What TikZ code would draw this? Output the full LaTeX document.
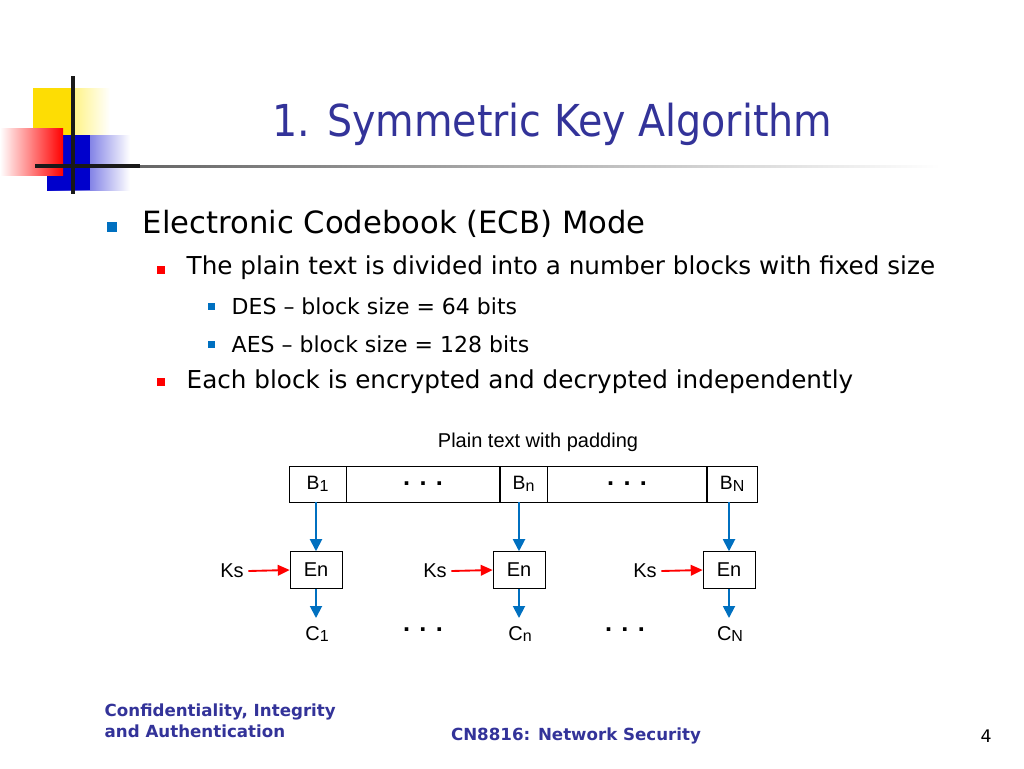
\documentclass[tikz,border=0pt]{standalone}
\usepackage{fontspec}
\setmainfont{DejaVu Sans}
\newfontfamily\condfont{DejaVu Sans Condensed}
\newfontfamily\arialfont{Liberation Sans}
\usetikzlibrary{positioning,arrows.meta}
\definecolor{titleblue}{RGB}{51,51,153}
\definecolor{arrowblue}{RGB}{0,112,192}
\newcommand{\lowtxt}[1]{\raisebox{-0.15ex}{\fontsize{12}{14}\selectfont #1}}
\tikzset{
  blk/.style={draw,minimum height=36*0.75pt,inner sep=0pt,font=\arialfont\fontsize{14.5}{16}\selectfont},
  enbox/.style={draw,minimum width=52*0.75pt,minimum height=37*0.75pt,inner sep=0pt,font=\arialfont\fontsize{15}{17}\selectfont},
  lbl/.style={font=\arialfont\fontsize{15}{17}\selectfont},
  dots/.style={font=\arialfont\bfseries\fontsize{19}{20}\selectfont},
  flow/.style={arrowblue,line width=1.4pt,-{Triangle[length=9pt,width=9pt]}},
  keyarr/.style={red,line width=1.4pt,-{Triangle[length=9pt,width=8pt]}},
  foot/.style={font=\bfseries\fontsize{12.5}{16}\selectfont,text=titleblue,anchor=west,align=left}
}
\begin{document}
\begin{tikzpicture}[x=0.75pt,y=-0.75pt]
    \useasboundingbox (0,0) rectangle (1024,768);
    % logo
    \shade[left color=yellow!80!orange,right color=white] (33,88) rectangle (110,135);
    \fill[yellow!80!orange] (33,88) rectangle (75,135);
    \shade[left color=blue!80!black,right color=white] (47,135) rectangle (130,190);
    \fill[blue!80!black] (47,135) rectangle (90,190);
    \shade[left color=white,right color=red] (0,128) rectangle (63,175);
    \draw[line width=2.4pt,black!90] (73,76) -- (73,194);
    \draw[line width=2.4pt,black!90] (35,166) -- (140,166);
    \shade[left color=black!60,right color=white] (140,165) rectangle (940,167.5);
    \node[anchor=west,text=titleblue,font=\condfont\fontsize{33}{38}\selectfont] (title) at (268,124) {1. Symmetric Key Algorithm};

    % bullets
    \fill[arrowblue] (107,222) rectangle (117,232);
    \node[anchor=west,font=\fontsize{23}{26}\selectfont] (b1) at (138,224) {Electronic Codebook (ECB) Mode};
    \fill[red] (157,266) rectangle (165,274);
    \node[anchor=west,font=\fontsize{18.5}{22}\selectfont] (b2) at (182,268) {The plain text is divided into a number blocks with fixed size};
    \fill[arrowblue] (208,303) rectangle (215,310);
    \node[anchor=west,font=\fontsize{16.5}{19}\selectfont] (b3) at (227,306) {DES -- block size = 64 bits};
    \fill[arrowblue] (208,341) rectangle (215,348);
    \node[anchor=west,font=\fontsize{16.5}{19}\selectfont] (b4) at (227,344) {AES -- block size = 128 bits};
    \fill[red] (157,378) rectangle (165,386);
    \node[anchor=west,font=\fontsize{18.5}{22}\selectfont] (b5) at (182,382) {Each block is encrypted and decrypted independently};

    % ECB diagram
    \node[lbl] (pad) at (538,442) {Plain text with padding};
    \node[blk,minimum width=57*0.75pt] (B1) at (317.5,484) {B\lowtxt{1}};
    \node[blk,minimum width=153*0.75pt,right=0pt of B1] (d1) {};
    \node[blk,minimum width=47*0.75pt,right=0pt of d1] (Bn) {B\lowtxt{n}};
    \node[blk,minimum width=159*0.75pt,right=0pt of Bn] (d2) {};
    \node[blk,minimum width=50*0.75pt,right=0pt of d2] (BN) {B\lowtxt{N}};
    \node[dots] at (d1) {. . .};
    \node[dots] at (d2) {. . .};
    \foreach \i/\x/\c in {1/316/1,2/519/n,3/729/N}{
      \node[enbox] (en\i) at (\x,570) {En};
      \node[lbl] (ks\i) at (\x-84,571) {Ks};
      \node[lbl] (c\i) at (\x+1,634) {C\lowtxt{\c}};
      \coordinate (top\i) at (\x,502);
      \coordinate (out\i) at (\x,618);
      \draw[flow] (top\i) -- (en\i.north);
      \draw[flow] (en\i.south) -- (out\i);
      \draw[keyarr] (ks\i.east) -- (en\i.west);
    }
    \node[dots] (cd1) at (423,630) {. . .};
    \node[dots] (cd2) at (625,630) {. . .};

    % footer
    \node[foot] (f1) at (100,721) {Confidentiality, Integrity\\and Authentication};
    \node[foot,anchor=center] (f2) at (576,736) {CN8816: Network Security};
    \node[font=\fontsize{13}{16}\selectfont] (num) at (986,736) {4};
\end{tikzpicture}
\end{document}
